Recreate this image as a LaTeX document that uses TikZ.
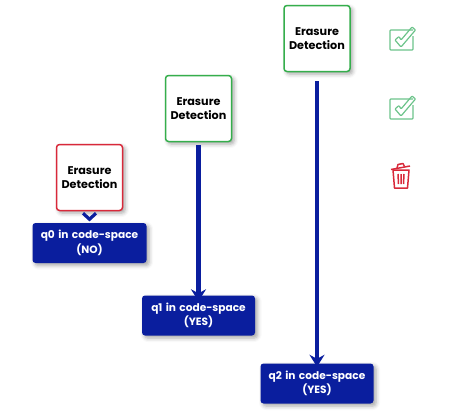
\documentclass[tikz,border=0pt]{standalone}
\usepackage{fontspec}
\setmainfont{Poppins}
\newfontfamily\widepoppins[WordSpace=1.5]{Poppins}
\usetikzlibrary{shadows.blur,arrows.meta}
\definecolor{navy}{HTML}{0A1E9E}
\definecolor{okgreen}{HTML}{35AE4C}
\definecolor{badred}{HTML}{D8293A}
\definecolor{iconok}{HTML}{6CC38A}
\tikzset{x=1pt,y=-1pt,
 softshadow/.style={blur shadow={shadow xshift=2.5pt,shadow yshift=-2.5pt,shadow blur radius=4pt,shadow opacity=35}},
 detect/.style={draw,line width=1.5pt,fill=white,rounded corners=3pt,minimum width=66pt,minimum height=66pt,inner sep=0pt,align=center,font=\fontsize{11.2}{14.5}\selectfont\bfseries,text=black,softshadow},
 space/.style={fill=navy,rounded corners=3pt,minimum width=114pt,minimum height=40pt,inner sep=0pt,align=center,font=\widepoppins\fontsize{10.6}{14.5}\selectfont\bfseries,text=white,softshadow},
 flow/.style={draw=navy,line width=4.8pt,-{Stealth[length=12pt,width=15pt,inset=4pt]}},
 icon/.style={iconok,line width=1.2pt,line join=round,rounded corners=0.8pt},
}
\newcommand{\checkicon}[2]{%
 \begin{scope}[shift={(#1,#2)}]
  \draw[icon] (11,-9) -- (-12,-9) -- (-12,11) -- (11,11) -- (11,-3);
  \draw[icon] (-7,1) -- (-3,-2.5) -- (-1,1) -- (10,-12) -- (13.5,-9) -- (-1,8) -- cycle;
 \end{scope}}
\begin{document}
\begin{tikzpicture}
\useasboundingbox (0,0) rectangle (474,418);
\node[detect,draw=badred] (d0) at (89.5,177.5) {Erasure\\Detection};
\node[detect,draw=okgreen] (d1) at (198.5,108.5) {Erasure\\Detection};
\node[detect,draw=okgreen] (d2) at (317,38.5) {Erasure\\Detection};
\node[space] (q0) at (89.5,243) {q0 in code-space\\(NO)};
\node[space,minimum width=113pt] (q1) at (198.5,315.5) {q1 in code-space\\(YES)};
\node[space,minimum width=113pt] (q2) at (317,383.5) {q2 in code-space\\(YES)};
\draw[navy,line width=3.2pt] ([shift={(-6.5,2)}]d0.south) -- ([shift={(0,8)}]d0.south) -- ([shift={(6.5,2)}]d0.south);
\draw[flow] (d1.south)++(0,3) -- ([yshift=-6pt]q1.north);
\draw[flow] (d2.south)++(0,9) -- ([yshift=-3.5pt]q2.north);
\checkicon{402}{39}
\checkicon{402}{108}
\begin{scope}[shift={(401,176)},badred,line width=1.5pt,line join=round]
 \draw (-8,-6) -- (-6.5,12) -- (6.5,12) -- (8,-6) -- cycle;
 \draw (-10,-6.5) -- (9,-10);
 \draw (-4,-8) -- (-3,-11.5) -- (2,-12.5) -- (3.5,-9.5);
 \draw (-3,-2) -- (-2.5,8) (0,-2) -- (0,8) (3,-2) -- (2.5,8);
\end{scope}
\end{tikzpicture}
\end{document}
